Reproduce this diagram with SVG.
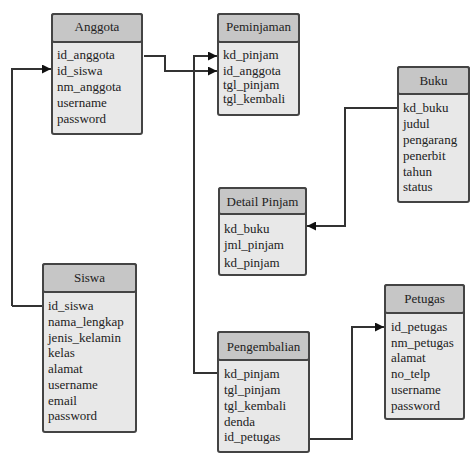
<svg xmlns="http://www.w3.org/2000/svg" width="474" height="474" viewBox="0 0 474 474">
<defs>
<marker id="arr" viewBox="0 0 10 10" refX="10" refY="5" markerWidth="10" markerHeight="9" markerUnits="userSpaceOnUse" orient="auto"><path d="M0,0 L10,5 L0,10 z" fill="#111"/></marker>
</defs>
<style>
.box{fill:#e8e8e8;stroke:#444;stroke-width:2}
.hd{fill:#c6c6c6;stroke:#444;stroke-width:2}
.ti{text-anchor:middle}
.c{fill:none;stroke:#333;stroke-width:2}
</style>
<rect width="474" height="474" fill="#fff"/>
<g id="connectors">
<path class="c" d="M12,306 H42" />
<path class="c" d="M12,306 V69 H51" marker-end="url(#arr)"/>
<path class="c" d="M144,56 H165 V71 H217" marker-end="url(#arr)"/>
<path class="c" d="M218,373 H194 V56 H217" marker-end="url(#arr)"/>
<path class="c" d="M398,108 H345 V226 H307" marker-end="url(#arr)"/>
<path class="c" d="M309,439 H352 V327 H384" marker-end="url(#arr)"/>
</g>
<g font-family="Liberation Serif, serif" font-size="13" fill="#222">
<g id="anggota">
<rect class="box" x="52" y="14" width="90" height="120" rx="2"/>
<rect class="hd" x="52" y="14" width="90" height="28" rx="2"/>
<text class="ti" x="97" y="31">Anggota</text>
<text x="57" y="59">id_anggota</text>
<text x="57" y="75">id_siswa</text>
<text x="57" y="91">nm_anggota</text>
<text x="57" y="107">username</text>
<text x="57" y="123">password</text>
</g>
<g id="peminjaman">
<rect class="box" x="218" y="14" width="81" height="101" rx="2"/>
<rect class="hd" x="218" y="14" width="81" height="28" rx="2"/>
<text class="ti" x="258.5" y="31">Peminjaman</text>
<text x="223" y="59">kd_pinjam</text>
<text x="223" y="75">id_anggota</text>
<text x="223" y="89">tgl_pinjam</text>
<text x="223" y="103">tgl_kembali</text>
</g>
<g id="buku">
<rect class="box" x="398" y="67" width="71" height="135" rx="2"/>
<rect class="hd" x="398" y="67" width="71" height="27" rx="2"/>
<text class="ti" x="433.5" y="85">Buku</text>
<text x="403" y="112">kd_buku</text>
<text x="403" y="128">judul</text>
<text x="403" y="144">pengarang</text>
<text x="403" y="160">penerbit</text>
<text x="403" y="176">tahun</text>
<text x="403" y="191">status</text>
</g>
<g id="detail-pinjam">
<rect class="box" x="219" y="188" width="87" height="87" rx="2"/>
<rect class="hd" x="219" y="188" width="87" height="26" rx="2"/>
<text class="ti" x="262.5" y="206">Detail Pinjam</text>
<text x="224" y="233">kd_buku</text>
<text x="224" y="249">jml_pinjam</text>
<text x="224" y="267">kd_pinjam</text>
</g>
<g id="siswa">
<rect class="box" x="43" y="264" width="93" height="168" rx="2"/>
<rect class="hd" x="43" y="264" width="93" height="28" rx="2"/>
<text class="ti" x="89.5" y="282">Siswa</text>
<text x="48" y="310">id_siswa</text>
<text x="48" y="326">nama_lengkap</text>
<text x="48" y="342">jenis_kelamin</text>
<text x="48" y="357">kelas</text>
<text x="48" y="373">alamat</text>
<text x="48" y="389">username</text>
<text x="48" y="405">email</text>
<text x="48" y="420">password</text>
</g>
<g id="pengembalian">
<rect class="box" x="218" y="332" width="91" height="120" rx="2"/>
<rect class="hd" x="218" y="332" width="91" height="28" rx="2"/>
<text class="ti" x="263.5" y="351">Pengembalian</text>
<text x="224" y="378">kd_pinjam</text>
<text x="224" y="394">tgl_pinjam</text>
<text x="224" y="410">tgl_kembali</text>
<text x="224" y="426">denda</text>
<text x="224" y="441">id_petugas</text>
</g>
<g id="petugas">
<rect class="box" x="385" y="285" width="79" height="134" rx="2"/>
<rect class="hd" x="385" y="285" width="79" height="28" rx="2"/>
<text class="ti" x="424.5" y="303">Petugas</text>
<text x="391" y="331">id_petugas</text>
<text x="391" y="347">nm_petugas</text>
<text x="391" y="362">alamat</text>
<text x="391" y="378">no_telp</text>
<text x="391" y="394">username</text>
<text x="391" y="410">password</text>
</g>
</g>
</svg>
